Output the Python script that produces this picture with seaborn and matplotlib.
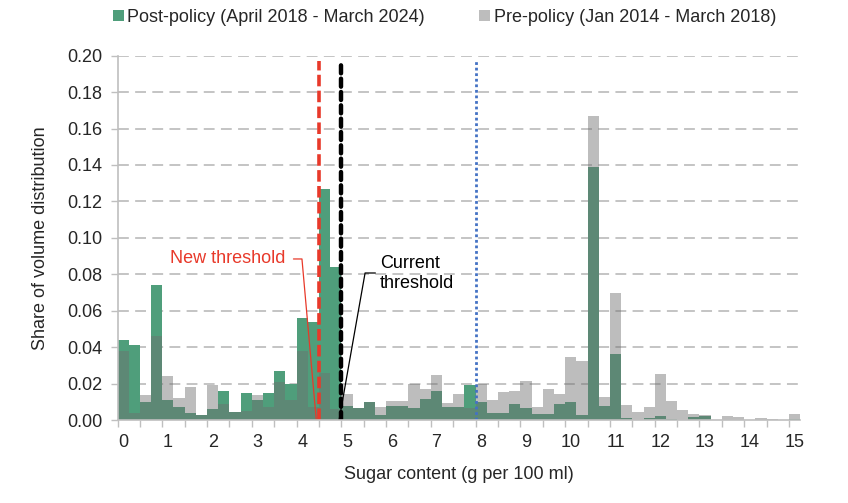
import numpy as np
import pandas as pd
import matplotlib
matplotlib.use("Agg")
import matplotlib.pyplot as plt
from matplotlib.patches import Patch
import seaborn as sns

# sugar content bins, 0.25 g wide, labelled by their lower edge
BIN_WIDTH = 0.25
bin_start = np.arange(61) * BIN_WIDTH

pre_policy = [
    0.038, 0.004, 0.014, 0.046, 0.024, 0.012, 0.018, 0.003, 0.019, 0.009,
    0.0045, 0.005, 0.014, 0.007, 0.021, 0.011, 0.038, 0.007, 0.026, 0.006,
    0.0143, 0.0066, 0.0097, 0.0073, 0.0106, 0.0106, 0.0195, 0.0172, 0.0245, 0.0095,
    0.0143, 0.0068, 0.0198, 0.011, 0.0152, 0.0161, 0.0214, 0.0074, 0.0172, 0.0143,
    0.0346, 0.0323, 0.167, 0.0126, 0.0698, 0.0081, 0.0044, 0.0074, 0.0251, 0.0106,
    0.0057, 0.0034, 0.0026, 0.0, 0.0022, 0.0015, 0.0, 0.0011, 0.0005, 0.0,
    0.0033,
]
post_policy = [
    0.044, 0.041, 0.010, 0.074, 0.011, 0.007, 0.004, 0.003, 0.006, 0.016,
    0.0045, 0.015, 0.011, 0.015, 0.027, 0.020, 0.056, 0.054, 0.127, 0.084,
    0.0079, 0.0066, 0.0097, 0.0029, 0.0079, 0.0079, 0.0067, 0.0115, 0.0160, 0.0070,
    0.0070, 0.0192, 0.0097, 0.0037, 0.0038, 0.0086, 0.0064, 0.0032, 0.0035, 0.009,
    0.0097, 0.0026, 0.139, 0.0077, 0.036, 0.001, 0.0, 0.001, 0.0023, 0.0004,
    0.0, 0.0014, 0.0024, 0.0, 0.0, 0.0, 0.0, 0.0, 0.0, 0.0,
    0.0005,
]

x_tick_labels = [str(i) for i in range(16)]
y_ticks = [0.00, 0.02, 0.04, 0.06, 0.08, 0.10, 0.12, 0.14, 0.16, 0.18, 0.20]

NEW_THRESHOLD = 4.5
CURRENT_THRESHOLD = 5.0
UPPER_THRESHOLD = 8.0

GREEN = "#4f9e7b"
GREY = "#6f6f6f"
RED = "#e8392a"
BLUE = "#4472c4"
AXIS_GREY = "#bfbfbf"
FS = 13

df = pd.DataFrame({
    "bin_mid": bin_start + BIN_WIDTH / 2,
    "post": post_policy,
    "pre": pre_policy,
})
bin_range = (0, bin_start[-1] + BIN_WIDTH)

sns.set_theme(style="white")
plt.rcParams["font.family"] = ["Liberation Sans", "DejaVu Sans"]

fig = plt.figure(figsize=(8.48, 5.03), dpi=100)
ax = fig.add_axes([0.1386, 0.165, 0.805, 0.7243])

sns.histplot(data=df, x="bin_mid", weights="post", binwidth=BIN_WIDTH,
             binrange=bin_range, color=GREEN, alpha=1, linewidth=0, ax=ax)
sns.histplot(data=df, x="bin_mid", weights="pre", binwidth=BIN_WIDTH,
             binrange=bin_range, color=GREY, alpha=0.46, linewidth=0, ax=ax)

# threshold lines
ax.axvline(NEW_THRESHOLD, ymax=0.985, color=RED, lw=2.6, dashes=(3.2, 1.2))
ax.axvline(CURRENT_THRESHOLD, ymax=0.975, color="black", lw=3.2,
           dashes=(1.8, 1.2), dash_capstyle="round")
ax.axvline(UPPER_THRESHOLD, ymax=0.99, color=BLUE, lw=2.0, dashes=(1, 1.0))

ax.set_xlim(0, 15.25)
ax.set_ylim(0, 0.20)
ax.set_yticks(y_ticks)
ax.set_yticklabels([f"{v:.2f}" for v in y_ticks], fontsize=FS)
ax.set_xticks(np.arange(16) + BIN_WIDTH / 2)
ax.set_xticklabels(x_tick_labels, fontsize=FS)
ax.set_xticks(np.arange(0, 15.01, 0.5), minor=True)
ax.tick_params(axis="x", which="major", length=0, pad=10)
ax.tick_params(axis="x", which="minor", length=5, width=1, color=AXIS_GREY,
               direction="out", bottom=True)
ax.tick_params(axis="y", length=5, width=1, color=AXIS_GREY, direction="out",
               left=True, pad=6)

ax.set_axisbelow(True)
ax.yaxis.grid(True, color=AXIS_GREY, lw=1.3, dashes=(6, 3.5))
for y in ax.get_ygridlines()[:1]:
    y.set_visible(False)
for side in ["top", "right"]:
    ax.spines[side].set_visible(False)
for side in ["left", "bottom"]:
    ax.spines[side].set_color(AXIS_GREY)
    ax.spines[side].set_linewidth(1.2)

ax.set_xlabel("Sugar content (g per 100 ml)", fontsize=FS, labelpad=11)
ax.set_ylabel("Share of volume distribution", fontsize=FS, labelpad=13)

# annotations with leader lines
ax.text(3.76, 0.0885, "New threshold", color=RED, fontsize=FS,
        ha="right", va="center")
ax.plot([3.93, 4.12, 4.44], [0.0884, 0.0884, 0.0], color=RED, lw=0.9)
ax.text(5.86, 0.0804, "Current\nthreshold", color="black", fontsize=FS,
        ha="left", va="center", linespacing=1.3)
ax.plot([5.76, 5.53, 4.95], [0.0807, 0.0807, 0.0], color="black", lw=0.9)

handles = [Patch(facecolor=GREEN, edgecolor="none"),
           Patch(facecolor=GREY, alpha=0.46, edgecolor="none")]
labels = ["Post-policy (April 2018 - March 2024)",
          "Pre-policy (Jan 2014 - March 2018)"]
fig.legend(handles, labels, loc="center", bbox_to_anchor=(0.524, 0.966),
           ncol=2, frameon=False, fontsize=FS, handlelength=0.6,
           handleheight=0.6, handletextpad=0.2, columnspacing=3.0)

fig.savefig("out.png", dpi=100)
